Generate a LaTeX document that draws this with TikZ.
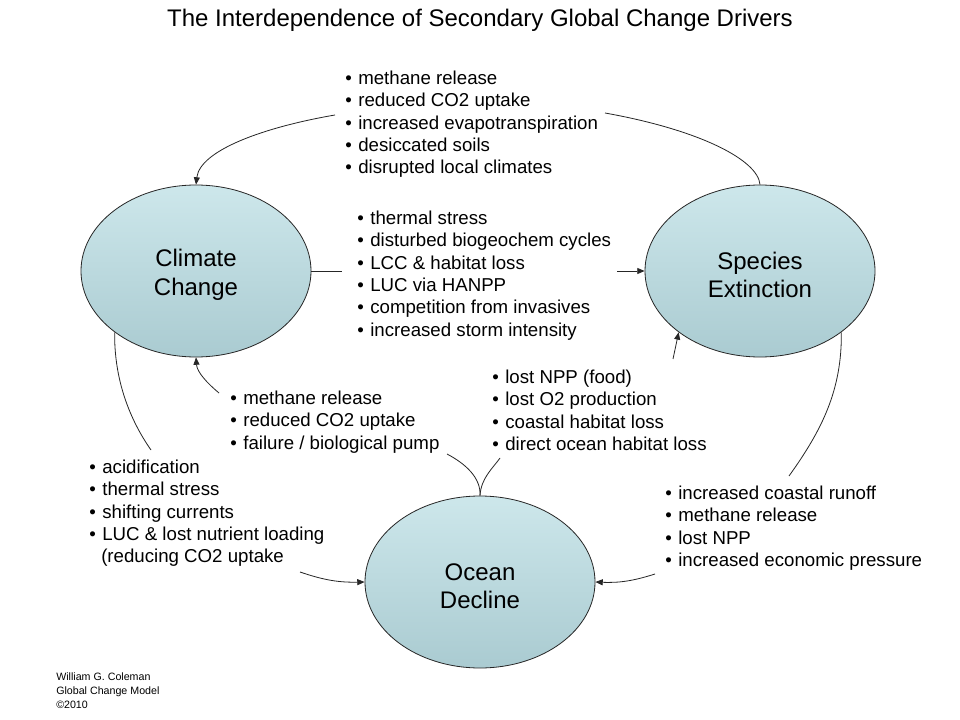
\documentclass[tikz,border=0pt]{standalone}
\usepackage{fontspec}
\setmainfont{Liberation Sans}
\usetikzlibrary{shapes.geometric,arrows.meta}
\definecolor{drvtop}{RGB}{205,231,235}
\definecolor{drvbot}{RGB}{170,203,209}
\newcommand\bltm{\makebox[9.8pt][l]{•}}
\newcommand\lblup{\rule{0pt}{19pt}}
\tikzset{
  driver/.style={ellipse, draw=black!85, line width=0.6pt, top color=drvtop, bottom color=drvbot,
    minimum width=172.5pt, minimum height=129pt, inner sep=0pt, align=center,
    font=\fontsize{18}{21.6}\selectfont},
  bullets/.style={anchor=north west, inner sep=0pt, align=left, font=\fontsize{14}{16.8}\selectfont},
  credit/.style={anchor=north west, inner sep=0pt, align=left, font=\fontsize{8}{10.5}\selectfont},
  link/.style={line width=0.6pt, draw=black!85},
  arr/.style={link, -{Triangle[length=5.5pt,width=4.5pt]}},
}
\begin{document}
\begin{tikzpicture}[x=0.75pt, y=-0.75pt]
\fill[white] (0,0) rectangle (960,720);
\useasboundingbox (0,0) rectangle (960,720);

\node[font=\fontsize{18}{21.6}\selectfont, anchor=base, inner sep=0pt] (title) at (480,27)
  {The Interdependence of Secondary Global Change Drivers};

\node[driver] (cc) at (196,271) {\lblup Climate\\Change};
\node[driver] (se) at (760,271) {\lblup Species\\Extinction};
\node[driver] (od) at (480,582) {\lblup Ocean\\Decline};

\node[bullets] (t1) at (345,68.3) {\strut\bltm methane release\\ \bltm reduced CO2 uptake\\ \bltm increased evapotranspiration\\ \bltm desiccated soils\\ \bltm disrupted local climates};
\node[bullets] (t2) at (357,208.3) {\strut\bltm thermal stress\\ \bltm disturbed biogeochem cycles\\ \bltm LCC \& habitat loss\\ \bltm LUC via HANPP\\ \bltm competition from invasives\\ \bltm increased storm intensity};
\node[bullets] (t3) at (230,388.3) {\strut\bltm methane release\\ \bltm reduced CO2 uptake\\ \bltm failure / biological pump};
\node[bullets] (t4) at (492,367.3) {\strut\bltm lost NPP (food)\\ \bltm lost O2 production\\ \bltm coastal habitat loss\\ \bltm direct ocean habitat loss};
\node[bullets] (t5) at (89,457.3) {\strut\bltm acidification\\ \bltm thermal stress\\ \bltm shifting currents\\ \bltm LUC \& lost nutrient loading\\ \hspace*{9pt}(reducing CO2 uptake};
\node[bullets] (t6) at (665,483.3) {\strut\bltm increased coastal runoff\\ \bltm methane release\\ \bltm lost NPP\\ \bltm increased economic pressure};

\node[credit] (cr) at (56,670.7) {\strut William G. Coleman\\ Global Change Model\\ ©2010};

\coordinate (a1) at (605,113);
\coordinate (a2) at (335,115);
\coordinate (b1) at (342,271);
\coordinate (b2) at (617,271);
\coordinate (c1) at (789,476);
\coordinate (c2) at (655,574);
\coordinate (d1) at (151,450);
\coordinate (d2) at (300,572);
\coordinate (e1) at (447,454);
\coordinate (e2) at (219,393);
\coordinate (f1) at (500,458);
\coordinate (f2) at (673,359);

% Species Extinction -> Climate Change (top)
\draw[link] (se.north) .. controls (758,160) and (700,130) .. (a1);
\draw[arr] (a2) .. controls (265,127) and (200,150) .. (cc.north);
% Climate Change -> Species Extinction (middle)
\draw[link] (cc.east) -- (b1);
\draw[arr] (b2) -- (se.west);
% Species Extinction -> Ocean Decline
\draw[link] (se.-37) .. controls (842,390) and (822,430) .. (c1);
\draw[arr] (c2) to[bend left=10] (od.east);
% Climate Change -> Ocean Decline
\draw[link] (cc.-143) .. controls (114,380) and (130,420) .. (d1);
\draw[arr] (d2) to[bend right=10] (od.west);
% Ocean Decline -> Climate Change
\draw[link] (od.north) .. controls (481,478) and (466,464) .. (e1);
\draw[arr] (e2) .. controls (207,383) and (197,372) .. (cc.south);
% Ocean Decline -> Species Extinction
\draw[link] (od.north) .. controls (481,478) and (493,468) .. (f1);
\draw[arr] (f2) -- (se.-143);
\end{tikzpicture}
\end{document}
